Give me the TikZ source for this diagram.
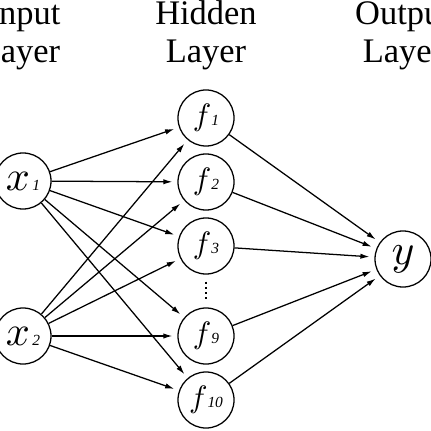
\documentclass[tikz,border=0pt]{standalone}
\usepackage{fontspec}
\setmainfont{Liberation Serif}
\usetikzlibrary{arrows.meta}

\tikzset{
  neuron/.style={circle,draw,line width=0.9pt,minimum size=1.4cm,inner sep=0pt},
  layerlabel/.style={inner sep=0pt,anchor=base,font=\fontsize{24.5}{26}\selectfont},
  conn/.style={line width=0.9pt,-{Latex[length=6.5pt,width=3.8pt]},shorten >=3.5pt}
}
\newcommand{\inlab}[1]{\scalebox{3}{$x$}\,{\fontsize{11}{11}\selectfont\itshape #1}}
\newcommand{\hidlab}[1]{\scalebox{2.2}{$f$}{\fontsize{11}{11}\selectfont\itshape #1}}

\begin{document}
\begin{tikzpicture}[x=0.025cm,y=-0.025cm]
\clip (0,0) rectangle (431,431);

% layer titles
\node[layerlabel] (tin1)  at (24,25)  {Input};
\node[layerlabel] (tin2)  at (20,63)  {Layer};
\node[layerlabel] (thid1) at (206,25) {Hidden};
\node[layerlabel] (thid2) at (206,63) {Layer};
\node[layerlabel] (tout1) at (403,25) {Output};
\node[layerlabel] (tout2) at (403,63) {Layer};

% input layer
\node[neuron] (x1) at (23,181) {\inlab{1}};
\node[neuron] (x2) at (23,336) {\inlab{2}};

% hidden layer
\node[neuron] (f1)  at (206,118) {\hidlab{1}};
\node[neuron] (f2)  at (206,182) {\hidlab{2}};
\node[neuron] (f3)  at (206,246) {\hidlab{3}};
\node[neuron] (f9)  at (206,336) {\hidlab{9}};
\node[neuron] (f10) at (206,400) {\hidlab{10}};
\draw[line width=1.3pt,dash pattern=on 1.3pt off 2.4pt,shorten <=5pt,shorten >=5pt]
  (f3.south) -- (f9.north);

% output layer
\node[neuron] (y) at (403,259) {\scalebox{3.1}{$y$}};

% connections
\foreach \s in {x1,x2}
  \foreach \t in {f1,f2,f3,f9,f10}
    \draw[conn] (\s) -- (\t);
\foreach \t in {f1,f2,f3,f9,f10}
  \draw[conn] (\t) -- (y);
\end{tikzpicture}
\end{document}
